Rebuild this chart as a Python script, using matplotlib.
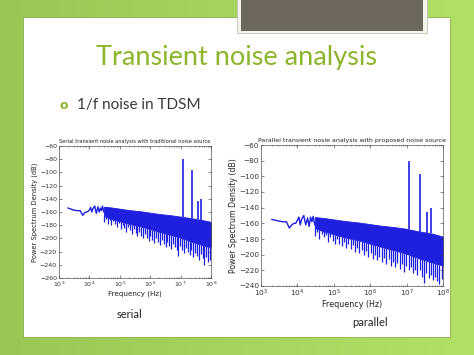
import numpy as np
import matplotlib
matplotlib.use("Agg")
import matplotlib.pyplot as plt
from matplotlib.patches import Rectangle

W, H = 474, 355

# ---- data ----
low_freq = [2e3, 3e3, 4e3, 5e3, 6e3, 7e3, 8e3, 9e3, 1.0e4, 1.1e4, 1.2e4, 1.3e4,
            1.5e4, 1.6e4, 1.7e4, 1.9e4, 2.1e4, 2.3e4, 2.5e4, 2.7e4, 3.0e4]
serial_low = [-154, -157, -158, -158, -165, -161, -160, -159, -157, -153, -160, -155,
              -151, -158, -162, -152, -160, -154, -158, -151, -160]
parallel_low = [-155, -157, -158, -158, -166, -162, -160, -160, -156, -152, -162, -155,
                -150, -157, -162, -153, -164, -152, -158, -151, -162]

band_freq = [3e4, 5e4, 1e5, 2e5, 5e5, 1e6, 2e6, 5e6, 1e7, 2e7, 5e7, 1e8]
serial_upper = [-152, -153, -155, -157, -159, -161, -163, -165, -167, -169, -172, -175]
serial_lower = [-166, -170, -174, -178, -182, -186, -190, -195, -199, -204, -210, -214]
parallel_upper = [-152, -153, -155, -157, -159, -161, -163, -165, -167, -170, -173, -177]
parallel_lower = [-166, -170, -174, -178, -182, -186, -190, -195, -199, -204, -210, -214]

dip_freq = [3.0e4, 3.5e4, 4.0e4, 4.6e4, 5.3e4, 6.1e4, 7.0e4, 8.1e4, 9.3e4, 1.07e5,
            1.23e5, 1.42e5, 1.63e5, 1.88e5, 2.16e5, 2.5e5, 2.9e5, 3.3e5, 3.8e5, 4.4e5,
            5.0e5, 5.8e5, 6.7e5, 7.7e5, 8.9e5, 1.02e6, 1.18e6, 1.35e6, 1.56e6, 1.8e6,
            2.07e6, 2.4e6, 2.75e6, 3.2e6, 3.65e6, 4.2e6, 4.85e6, 5.6e6, 6.4e6, 7.4e6,
            8.5e6, 9.8e6, 1.13e7, 1.3e7, 1.5e7, 1.72e7, 1.98e7, 2.28e7, 2.6e7, 3.0e7,
            3.45e7, 4.0e7, 4.6e7, 5.3e7, 6.1e7, 7.0e7, 8.0e7, 9.2e7]
serial_dip = [-175, -170, -178, -172, -180, -174, -178, -182, -176, -186,
              -180, -184, -190, -183, -188, -194, -186, -192, -197, -190,
              -196, -200, -193, -199, -204, -196, -203, -207, -199, -205,
              -210, -202, -208, -213, -205, -211, -216, -208, -213, -218,
              -226, -212, -218, -222, -214, -220, -225, -217, -228, -222,
              -226, -232, -224, -230, -240, -228, -236, -232]
parallel_dip = [-176, -171, -180, -173, -178, -175, -184, -177, -182, -187,
                -180, -186, -189, -184, -191, -186, -193, -188, -196, -191,
                -198, -194, -200, -195, -203, -198, -205, -200, -207, -203,
                -209, -204, -212, -206, -214, -209, -216, -210, -218, -212,
                -222, -215, -220, -216, -224, -219, -226, -220, -229, -236,
                -224, -230, -226, -232, -228, -233, -237, -231]

tone_freq = [1.2e7, 2.4e7, 3.6e7, 4.8e7]
serial_tone = [-80, -97, -144, -140]
parallel_tone = [-80, -97, -145, -140]

panels = [
    dict(title="Serial transient nosie analysis with traditional noise source",
         low=serial_low, up=serial_upper, lo=serial_lower, dip=serial_dip,
         tone=serial_tone, ylim=(-260, -60), box=(59, 146, 211, 278), fs=4.5, tfs=3.7),
    dict(title="Parallel transient nosie analysis with proposed noise source",
         low=parallel_low, up=parallel_upper, lo=parallel_lower, dip=parallel_dip,
         tone=parallel_tone, ylim=(-240, -60), box=(261, 145, 443, 286), fs=5.2, tfs=4.5),
]

fig = plt.figure(figsize=(W / 100, H / 100), dpi=100)

# ---- slide background ----
bg = fig.add_axes([0, 0, 1, 1])
grad = np.linspace(0, 1, 200)
cols = np.array([[0.60, 0.78, 0.33], [0.70, 0.88, 0.40]])
img = cols[0] + (cols[1] - cols[0]) * grad[:, None]
bg.imshow(img[None, :, :], aspect="auto", extent=[0, 1, 0, 1])
bg.set_xlim(0, 1)
bg.set_ylim(0, 1)
bg.axis("off")


def px(x0, y0, x1, y1):
    return (x0 / W, 1 - y1 / H), (x1 - x0) / W, (y1 - y0) / H


xy, w, h = px(23, 17, 450, 337)
bg.add_patch(Rectangle(xy, w, h, facecolor="white", edgecolor="#8aae4a", lw=0.6, zorder=2))
xy, w, h = px(237, -2, 427, 33)
bg.add_patch(Rectangle(xy, w, h, facecolor="#f4f4ec", edgecolor="#b8b8a8", lw=0.5, zorder=3))
xy, w, h = px(241, -2, 423, 31)
bg.add_patch(Rectangle(xy, w, h, facecolor="#6e675b", edgecolor="none", zorder=4))

fig.text(236 / W, 1 - 57 / H, "Transient noise analysis", ha="center", va="center",
         fontsize=19.5, color="#8db52c", family="Lato")
fig.text(64 / W, 1 - 105 / H, "o", ha="center", va="center", fontsize=9,
         color="#8db52c", family="DejaVu Sans", weight="bold")
fig.text(77 / W, 1 - 105 / H, "1/f noise in TDSM", ha="left", va="center",
         fontsize=11, color="#3a3a3a", family="Lato")
fig.text(130 / W, 1 - 314 / H, "serial", ha="center", va="center",
         fontsize=8, color="#222222", family="Lato")
fig.text(370 / W, 1 - 322 / H, "parallel", ha="center", va="center",
         fontsize=8, color="#222222", family="Lato")

blue = "#1f1fe0"
for p in panels:
    x0, y0, x1, y1 = p["box"]
    ax = fig.add_axes([x0 / W, 1 - y1 / H, (x1 - x0) / W, (y1 - y0) / H])
    ax.set_xscale("log")
    ax.plot(low_freq, p["low"], color=blue, lw=1.0)
    ax.fill_between(band_freq, p["lo"], p["up"], color=blue, lw=0.6, edgecolor=blue)
    ax.vlines(dip_freq, p["dip"], np.interp(np.log10(dip_freq), np.log10(band_freq), p["lo"]),
              color=blue, lw=0.9)
    ax.vlines(tone_freq, np.interp(np.log10(tone_freq), np.log10(band_freq), p["up"]),
              p["tone"], color=blue, lw=1.2)
    ax.set_xlim(1e3, 1e8)
    ax.set_ylim(*p["ylim"])
    ax.set_yticks(np.arange(p["ylim"][0], -59, 20))
    ax.tick_params(which="both", direction="in", labelsize=p["fs"], pad=1.5,
                   top=True, right=True, length=2, width=0.4, colors="#333333")
    ax.tick_params(which="minor", length=1)
    for s in ax.spines.values():
        s.set_linewidth(0.5)
        s.set_color("#555555")
    ax.set_title(p["title"], fontsize=p["tfs"], pad=2.5, color="#222222")
    ax.set_xlabel("Frequency (Hz)", fontsize=p["fs"] + 0.6, labelpad=0.5, color="#222222")
    ax.set_ylabel("Power Spectrum Density (dB)", fontsize=p["fs"] + 0.4, labelpad=1,
                  color="#222222")

fig.savefig("out.png", dpi=100)
